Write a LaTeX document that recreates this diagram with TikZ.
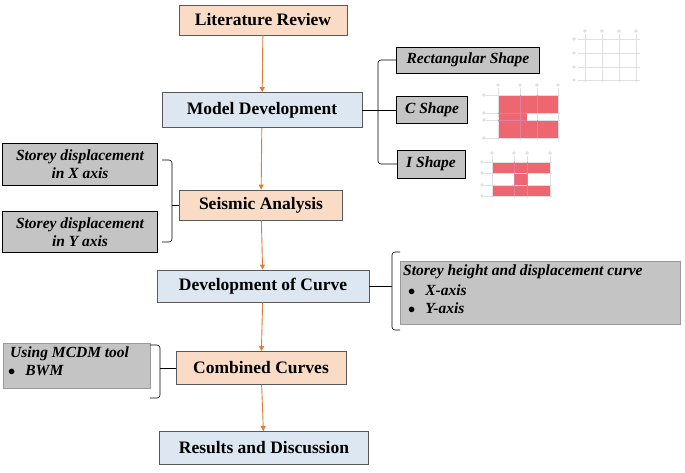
\documentclass[tikz,border=0pt]{standalone}
\usepackage{fontspec}
\setmainfont{Liberation Serif}
\usetikzlibrary{arrows.meta}
\definecolor{peach}{HTML}{FADBC6}
\definecolor{lblue}{HTML}{DDE7F1}
\definecolor{gbox}{HTML}{C4C4C4}
\definecolor{arr}{HTML}{E07B39}
\definecolor{pinkr}{HTML}{EE6670}
\tikzset{
 mainbox/.style={draw=gray!70!black,line width=0.8pt,font=\bfseries\fontsize{17.5}{20}\selectfont,inner sep=0pt},
 sidebox/.style={draw=black,fill=gbox,font=\bfseries\itshape\fontsize{15.5}{18}\selectfont,inner sep=0pt},
 sidetxt/.style={font=\bfseries\itshape\fontsize{15.5}{18}\selectfont,anchor=north west,inner sep=0pt},
 flow/.style={arr,line width=0.9pt,-{Triangle[length=5pt,width=5pt]}},
 brk/.style={black,line width=0.6pt,rounded corners=3pt},
 grd/.style={gray!25,line width=0.4pt},
}
\begin{document}
\begin{tikzpicture}[x=1pt,y=-1pt]
\useasboundingbox (0,0) rectangle (685,473);
\node[mainbox,fill=peach,minimum width=168,minimum height=30] (lit) at (263,20) {Literature Review};
\node[mainbox,fill=lblue,minimum width=200,minimum height=35] (mod) at (262,110) {Model Development};
\node[mainbox,fill=peach,minimum width=163,minimum height=30] (sei) at (261,205) {Seismic Analysis};
\node[mainbox,fill=lblue,minimum width=212,minimum height=32] (dev) at (263,286) {Development of Curve};
\node[mainbox,fill=peach,minimum width=170,minimum height=33] (com) at (261,368) {Combined Curves};
\node[mainbox,fill=lblue,minimum width=209,minimum height=33] (res) at (264,448) {Results and Discussion};
\draw[flow] (lit) -- (mod);
\draw[flow] (mod) -- (sei);
\draw[flow] (sei) -- (dev);
\draw[flow] (dev) -- (com);
\draw[flow] (com) -- (res);
% shapes
\node[sidebox,minimum width=143,minimum height=26] (rect) at (468,60) {Rectangular Shape};
\node[sidebox,minimum width=71,minimum height=27] (cs) at (432,110) {C Shape};
\node[sidebox,minimum width=68,minimum height=28] (is) at (431,164) {I Shape};
\coordinate (mb) at (378,110);
\draw[brk] (mod.east) -- (mb);
\draw[brk] (rect.west) -- (378,60) -- (378,164) -- (is.west);
\draw[brk] (cs.west) -- (378,110);
% storey displacement
\node[sidebox,minimum width=155,minimum height=42,align=center] (sx) at (80,164) {Storey displacement\\in X axis};
\node[sidebox,minimum width=155,minimum height=41,align=center] (sy) at (80,232) {Storey displacement\\in Y axis};
\draw[brk] (162,160) -- (172,160) -- (172,242) -- (162,242);
\draw[brk] (172,205) -- (sei.west);
% curve box
\node[draw=black!40,fill=gbox,minimum width=280,minimum height=63,inner sep=0pt] (ch) at (540,293) {};
\node[sidetxt] (cht) at (403,265) {Storey height and displacement curve};
\node[sidetxt] (chx) at (408,285) {$\bullet$\hspace{10pt}X-axis};
\node[sidetxt] (chy) at (408,303) {$\bullet$\hspace{10pt}Y-axis};
\draw[brk] (400,252) -- (392,252) -- (392,330) -- (400,330);
\draw[brk] (dev.east) -- (392,286);
% MCDM
\node[draw=black!40,fill=gbox,minimum width=147,minimum height=45,inner sep=0pt] (mc) at (77,366) {};
\node[sidetxt] (mct) at (10,347) {Using MCDM tool};
\node[sidetxt] (mcb) at (8,365) {$\bullet$\hspace{10pt}BWM};
\draw[brk] (150,345) -- (160,345) -- (160,398) -- (150,398);
\draw[brk] (160,368) -- (com.west);
% rectangular grid
\foreach \x in {585,602,619,636} {\draw[grd] (\x,34) -- (\x,82); \draw[gray!50] (\x,31) circle (1.3);}
\foreach \y in {39,53,67,80} {\draw[grd] (578,\y) -- (640,\y); \draw[gray!50] (574,\y) circle (1.3);}
% C shape
\fill[pinkr] (498,95) rectangle (558,138);
\fill[white] (527,113) rectangle (558,120);
\foreach \x in {498,520,537,558} {\draw[grd] (\x,88) -- (\x,140); \draw[gray!50] (\x,85) circle (1.3);}
\foreach \y in {95,113,120,138} {\draw[grd] (486,\y) -- (560,\y); \draw[gray!50] (484,\y) circle (1.3);}
\draw[purple!50,line width=0.4pt] (520,95) -- (520,138) (537,95) -- (537,113) (537,120)--(537,138) (498,113) -- (527,113) (498,120)--(527,120);
% I shape
\fill[pinkr] (492,162) rectangle (550,173);
\fill[pinkr] (514,173) rectangle (527,185);
\fill[pinkr] (492,185) rectangle (550,196);
\foreach \x in {492,514,527,550} {\draw[grd] (\x,156) -- (\x,198); \draw[gray!50] (\x,153) circle (1.3);}
\foreach \y in {162,173,185,196} {\draw[grd] (484,\y) -- (552,\y); \draw[gray!50] (482,\y) circle (1.3);}
\draw[purple!50,line width=0.4pt] (514,162) -- (514,196) (527,162) -- (527,196);
\end{tikzpicture}
\end{document}
